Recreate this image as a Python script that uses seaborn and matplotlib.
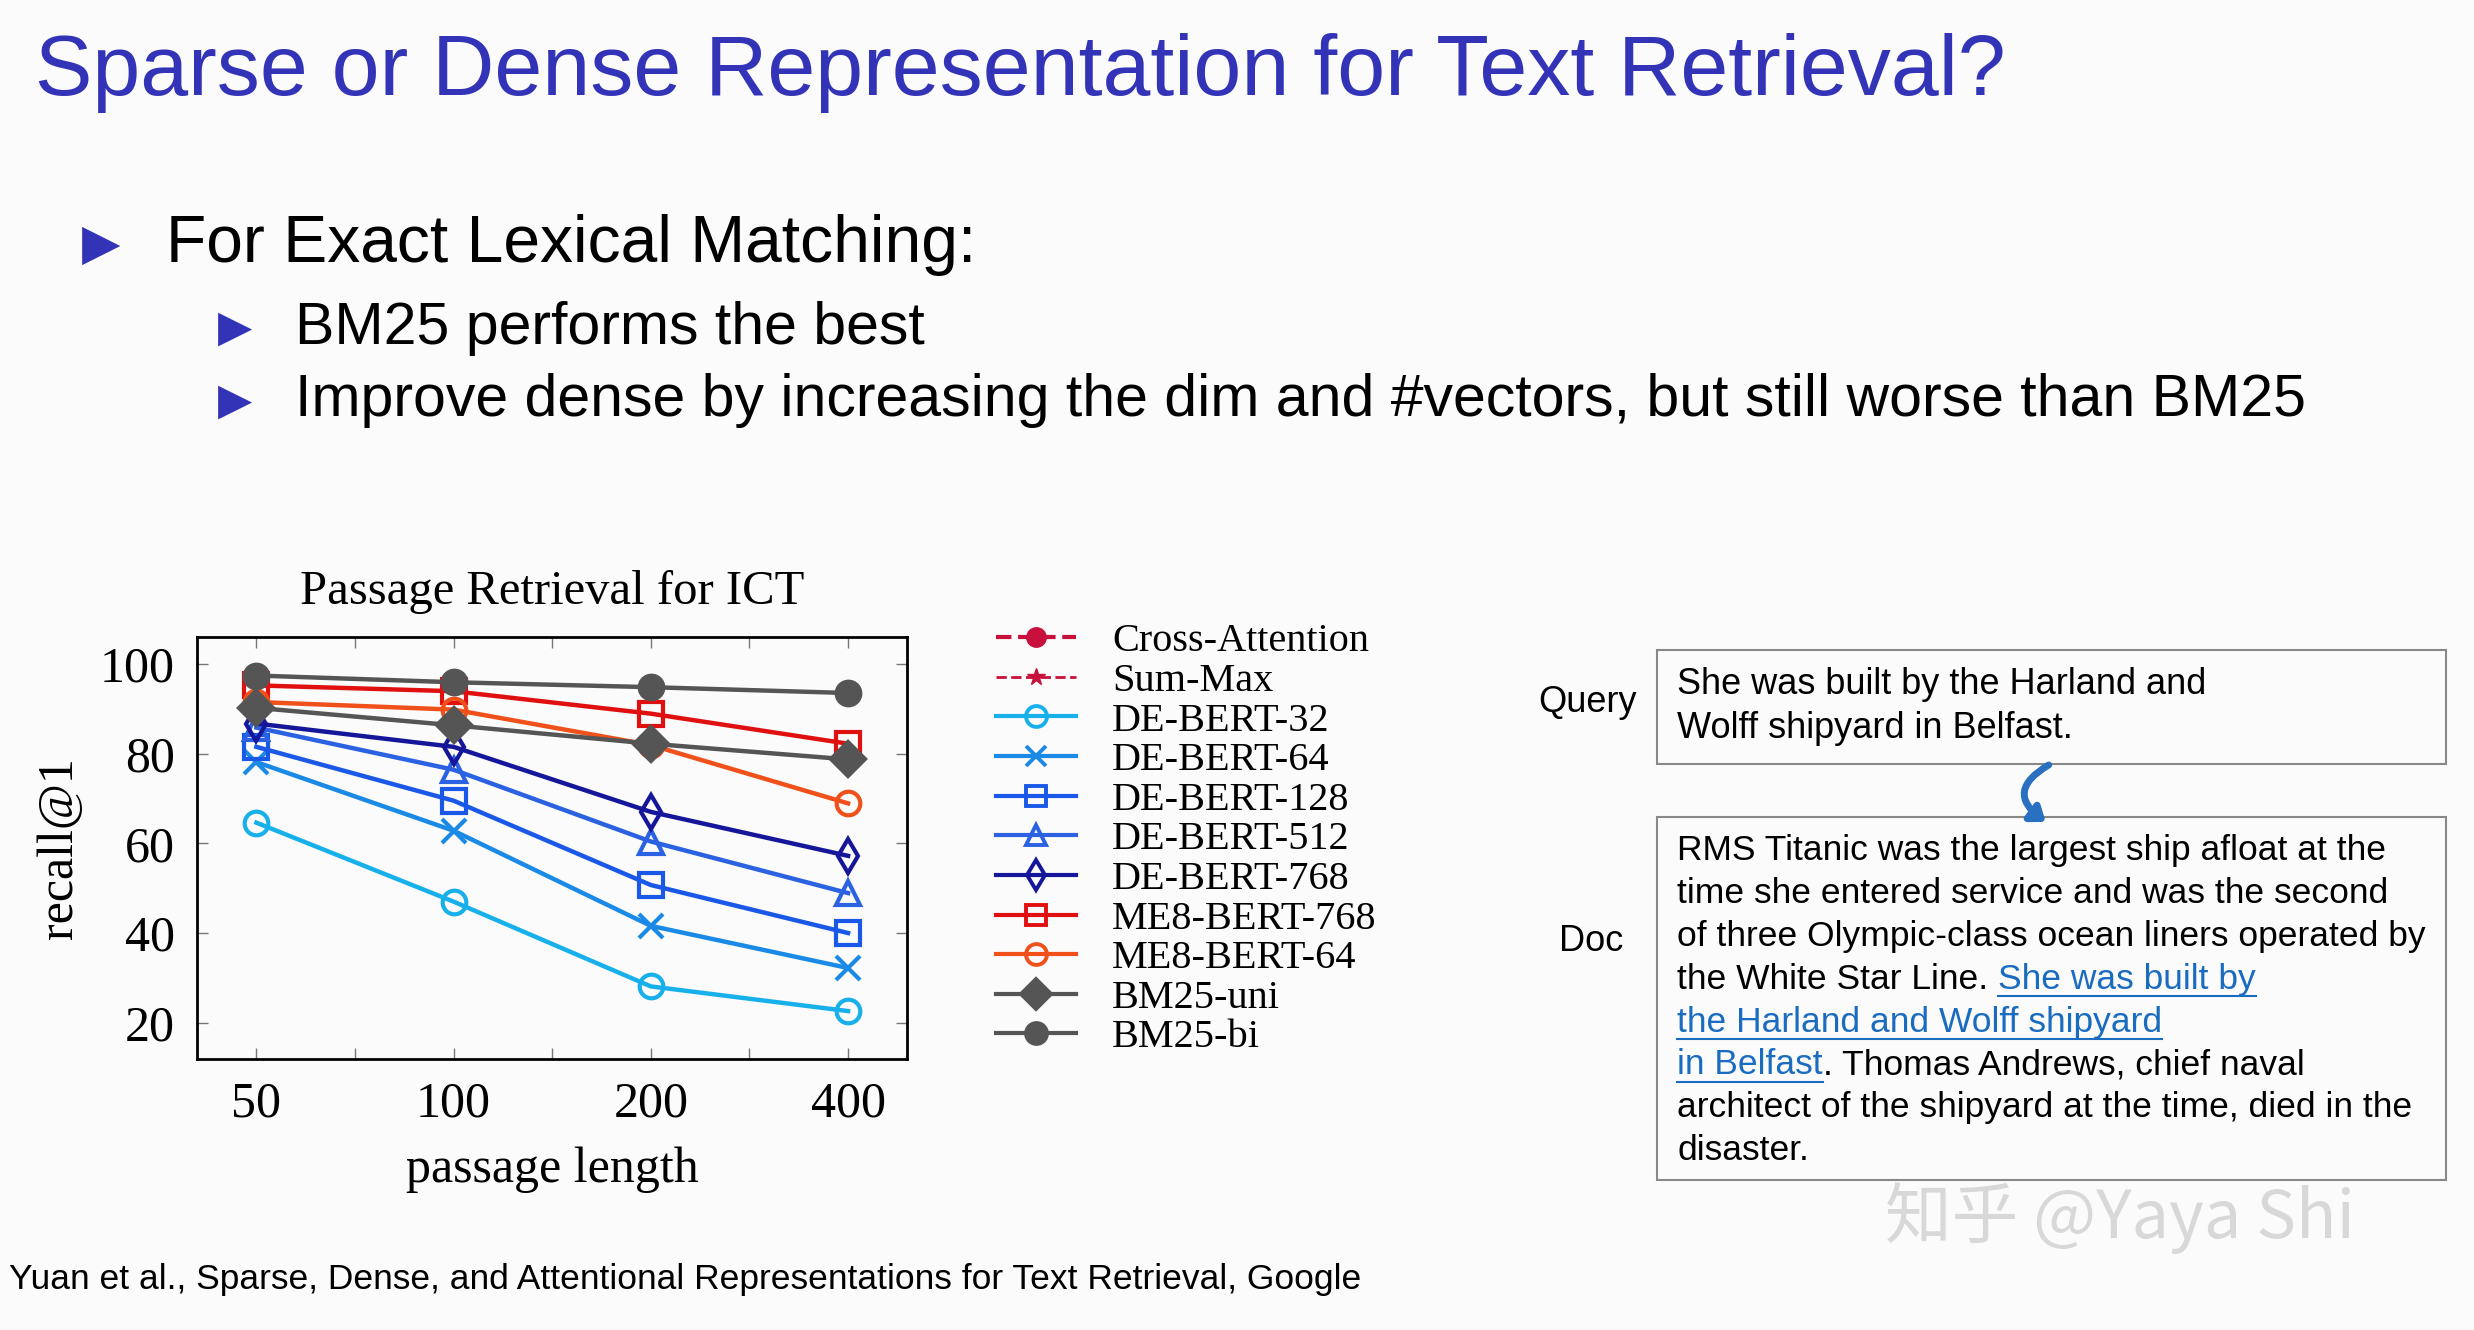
import matplotlib
matplotlib.use("Agg")
import matplotlib.pyplot as plt
import seaborn as sns
import pandas as pd
from matplotlib.lines import Line2D
from matplotlib.patches import Rectangle, FancyArrowPatch

passage_lengths = ["50", "100", "200", "400"]
series_names = ["DE-BERT-32", "DE-BERT-64", "DE-BERT-128", "DE-BERT-512", "DE-BERT-768",
                "ME8-BERT-768", "ME8-BERT-64", "BM25-uni", "BM25-bi"]
de_bert_32 = [64.6, 47.0, 28.1, 22.6]
de_bert_64 = [78.1, 62.8, 41.6, 32.2]
de_bert_128 = [81.5, 69.5, 50.7, 40.0]
de_bert_512 = [85.8, 76.4, 60.4, 48.9]
de_bert_768 = [86.7, 81.5, 67.0, 57.2]
me8_bert_768 = [95.2, 93.9, 88.9, 82.2]
me8_bert_64 = [91.5, 89.8, 81.9, 68.9]
bm25_uni = [90.2, 86.3, 82.2, 78.7]
bm25_bi = [97.4, 95.9, 94.8, 93.5]
series_values = [de_bert_32, de_bert_64, de_bert_128, de_bert_512, de_bert_768,
                 me8_bert_768, me8_bert_64, bm25_uni, bm25_bi]

styles = {
    "DE-BERT-32": dict(color="#18b0ea", marker="o", mfc="none"),
    "DE-BERT-64": dict(color="#1a8ae6", marker="x", mfc="none"),
    "DE-BERT-128": dict(color="#1a58e8", marker="s", mfc="none"),
    "DE-BERT-512": dict(color="#2a62e2", marker="^", mfc="none"),
    "DE-BERT-768": dict(color="#16169a", marker="d", mfc="none"),
    "ME8-BERT-768": dict(color="#e01010", marker="s", mfc="none"),
    "ME8-BERT-64": dict(color="#f0501a", marker="o", mfc="none"),
    "BM25-uni": dict(color="#555555", marker="D", mfc="#555555"),
    "BM25-bi": dict(color="#555555", marker="o", mfc="#555555"),
}

W, H = 1568, 843
def fx(x): return x / W
def fy(y): return 1 - y / H

BG = "#fbfbfb"
fig = plt.figure(figsize=(24.74, 13.30), dpi=100, facecolor=BG)
blue = "#3333b8"
sans = "Liberation Sans"
serif = "Liberation Serif"

fig.text(fx(22), fy(46), "Sparse or Dense Representation for Text Retrieval?", color=blue,
         fontsize=62, family=sans, va="center", ha="left")
fig.text(fx(52), fy(155), "\u25B6", color=blue, fontsize=36, family="DejaVu Sans", va="center")
fig.text(fx(105), fy(155), "For Exact Lexical Matching:", color="black", fontsize=47.5, family=sans, va="center")
for yy, t in [(208, "BM25 performs the best"),
              (254, "Improve dense by increasing the dim and #vectors, but still worse than BM25")]:
    fig.text(fx(138), fy(yy), "\u25B6", color=blue, fontsize=32, family="DejaVu Sans", va="center")
    fig.text(fx(187), fy(yy), t, color="black", fontsize=42.5, family=sans, va="center")

# Chart
ax = fig.add_axes([fx(125), fy(671), fx(575) - fx(125), fy(404) - fy(671)])
ax.set_facecolor(BG)
for name, vals in zip(series_names, series_values):
    df = pd.DataFrame({"x": range(len(passage_lengths)), "y": vals})
    st = styles[name]
    sns.lineplot(data=df, x="x", y="y", ax=ax, color=st["color"], marker=st["marker"],
                 markerfacecolor=st["mfc"], markeredgecolor=st["color"], markersize=17,
                 markeredgewidth=3, linewidth=3.2, sort=False)
ax.set_xlim(-0.3, 3.3)
ax.set_ylim(12, 105.9)
ax.set_xticks(range(len(passage_lengths)))
ax.set_xticklabels(passage_lengths)
ax.set_xticks([0.5, 1.5, 2.5], minor=True)
ax.set_yticks([20, 40, 60, 80, 100])
ax.tick_params(which="both", direction="in", top=True, right=True, length=8, width=1, colors="#777777",
               labelcolor="black", labelsize=36, pad=16)
for lab in ax.get_xticklabels() + ax.get_yticklabels():
    lab.set_family(serif)
for s in ax.spines.values():
    s.set_linewidth(2); s.set_color("black")
ax.set_xlabel("passage length", family=serif, fontsize=36, labelpad=14)
ax.set_ylabel("recall@1", family=serif, fontsize=36, labelpad=12)
ax.set_title("Passage Retrieval for ICT", family=serif, fontsize=35, pad=24)

handles = [Line2D([], [], color="#c8103c", ls="--", marker="o", markersize=14, lw=3),
           Line2D([], [], color="#c8103c", ls="--", marker="*", markersize=13, lw=2)]
labels = ["Cross-Attention", "Sum-Max"]
for name in series_names:
    st = styles[name]
    handles.append(Line2D([], [], color=st["color"], marker=st["marker"], mfc=st["mfc"],
                          mec=st["color"], markersize=15, mew=2.8, lw=3))
    labels.append(name)
leg = fig.legend(handles, labels, loc="upper left", bbox_to_anchor=(fx(608), fy(372)),
                 frameon=False, prop={"family": serif, "size": 29}, handlelength=2.0,
                 labelspacing=0.06, handletextpad=0.9)

# Right side boxes
fig.text(fx(975), fy(445), "Query", fontsize=26, family=sans, va="center")
fig.text(fx(988), fy(597), "Doc", fontsize=26, family=sans, va="center")
fig.patches.append(Rectangle((fx(1050), fy(484)), fx(1550) - fx(1050), fy(412) - fy(484),
                             transform=fig.transFigure, fill=False, ec="#888888", lw=1.5))
fig.patches.append(Rectangle((fx(1050), fy(748)), fx(1550) - fx(1050), fy(518) - fy(748),
                             transform=fig.transFigure, fill=False, ec="#888888", lw=1.5))
fig.text(fx(1063), fy(434), "She was built by the Harland and", fontsize=26, family=sans, va="center")
fig.text(fx(1063), fy(462), "Wolff shipyard in Belfast.", fontsize=26, family=sans, va="center")
fig.patches.append(FancyArrowPatch((fx(1300), fy(484)), (fx(1298), fy(522)), transform=fig.transFigure,
                                   connectionstyle="arc3,rad=0.8", arrowstyle="-|>,head_length=8,head_width=6",
                                   color="#2a70c0", lw=5))

doc_lines = [
    [("RMS Titanic was the largest ship afloat at the", False)],
    [("time she entered service and was the second", False)],
    [("of three Olympic-class ocean liners operated by", False)],
    [("the White Star Line. ", False), ("She was built by", True)],
    [("the Harland and Wolff shipyard", True)],
    [("in Belfast", True), (". Thomas Andrews, chief naval", False)],
    [("architect of the shipyard at the time, died in the", False)],
    [("disaster.", False)],
]
fig.canvas.draw()
renderer = fig.canvas.get_renderer()
link = "#1a6cc0"
for i, parts in enumerate(doc_lines):
    y = 539 + i * 27.2
    x = fx(1063)
    for txt, is_link in parts:
        t = fig.text(x, fy(y), txt, fontsize=25.5, family=sans, va="center",
                     color=link if is_link else "black")
        bb = t.get_window_extent(renderer).transformed(fig.transFigure.inverted())
        if is_link:
            fig.lines.append(Line2D([bb.x0, bb.x1], [fy(y + 11)] * 2, transform=fig.transFigure,
                                    color=link, lw=1.5))
        x = bb.x1

fig.text(fx(1195), fy(772), "知乎 @Yaya Shi", fontsize=48,
         family=["Noto Sans CJK SC", "Noto Sans CJK JP", "Noto Sans CJK TC", "DejaVu Sans"],
         color="#d8d8d8", va="center")
fig.text(fx(6), fy(811), "Yuan et al., Sparse, Dense, and Attentional Representations for Text Retrieval, Google",
         fontsize=25.5, family=sans, va="center")

fig.savefig("out.png", dpi=100, facecolor=BG)
